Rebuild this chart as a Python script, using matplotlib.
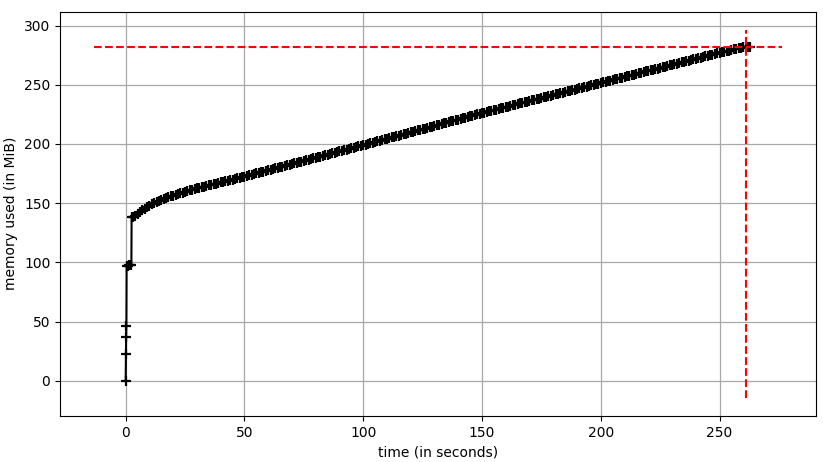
import matplotlib
matplotlib.use("Agg")
import matplotlib.pyplot as plt

# sample timestamps (s) and memory usage (MiB)
t_start = [0.0, 0.1, 0.2, 0.3, 0.4, 1.0, 1.5, 2.0, 2.4]
m_start = [0.0, 22.6, 37.3, 46.3, 97.0, 97.0, 97.5, 97.5, 97.5]

t_main = [2.5, 3, 4, 5, 6, 7, 8, 9, 10,
          11, 12, 13, 14, 15, 16, 17, 18, 19, 20,
          21, 22, 23, 24, 25, 26, 27, 28, 29, 30,
          31, 32, 33, 34, 35, 36, 37, 38, 39, 40,
          41, 42, 43, 44, 45, 46, 47, 48, 49, 50,
          51, 52, 53, 54, 55, 56, 57, 58, 59, 60,
          61, 62, 63, 64, 65, 66, 67, 68, 69, 70,
          71, 72, 73, 74, 75, 76, 77, 78, 79, 80,
          81, 82, 83, 84, 85, 86, 87, 88, 89, 90,
          91, 92, 93, 94, 95, 96, 97, 98, 99, 100,
          101, 102, 103, 104, 105, 106, 107, 108, 109, 110,
          111, 112, 113, 114, 115, 116, 117, 118, 119, 120,
          121, 122, 123, 124, 125, 126, 127, 128, 129, 130,
          131, 132, 133, 134, 135, 136, 137, 138, 139, 140,
          141, 142, 143, 144, 145, 146, 147, 148, 149, 150,
          151, 152, 153, 154, 155, 156, 157, 158, 159, 160,
          161, 162, 163, 164, 165, 166, 167, 168, 169, 170,
          171, 172, 173, 174, 175, 176, 177, 178, 179, 180,
          181, 182, 183, 184, 185, 186, 187, 188, 189, 190,
          191, 192, 193, 194, 195, 196, 197, 198, 199, 200,
          201, 202, 203, 204, 205, 206, 207, 208, 209, 210,
          211, 212, 213, 214, 215, 216, 217, 218, 219, 220,
          221, 222, 223, 224, 225, 226, 227, 228, 229, 230,
          231, 232, 233, 234, 235, 236, 237, 238, 239, 240,
          241, 242, 243, 244, 245, 246, 247, 248, 249, 250,
          251, 252, 253, 254, 255, 256, 257, 258, 259, 260,
          261, 262, 263]
m_main = [138.0, 138.5, 139.5, 141.0, 142.5, 144.0, 145.5, 147.0, 148.0,
          149.0, 150.0, 150.8, 151.5, 152.5, 153.5, 154.2, 155.0, 155.8, 156.5,
          157.0, 157.5, 158.2, 159.0, 159.5, 160.0, 160.8, 161.5, 162.0, 162.5,
          163.0, 163.5, 164.0, 164.5, 165.0, 165.5, 166.0, 166.5, 167.0, 167.5,
          168.0, 168.5, 169.0, 169.5, 170.0, 170.5, 171.0, 171.5, 172.0, 172.5,
          173.0, 173.5, 174.1, 174.6, 175.1, 175.6, 176.2, 176.7, 177.2, 177.8,
          178.3, 178.8, 179.4, 179.9, 180.4, 180.9, 181.5, 182.0, 182.5, 183.1,
          183.6, 184.1, 184.7, 185.2, 185.7, 186.2, 186.8, 187.3, 187.8, 188.4,
          188.9, 189.4, 190.0, 190.5, 191.0, 191.5, 192.1, 192.6, 193.1, 193.7,
          194.2, 194.7, 195.3, 195.8, 196.3, 196.8, 197.4, 197.9, 198.4, 199.0,
          199.5, 200.1, 200.6, 201.2, 201.7, 202.2, 202.8, 203.3, 203.9, 204.4,
          204.9, 205.5, 206.0, 206.6, 207.1, 207.6, 208.2, 208.7, 209.3, 209.8,
          210.3, 210.9, 211.4, 212.0, 212.5, 213.0, 213.6, 214.1, 214.7, 215.2,
          215.7, 216.3, 216.8, 217.4, 217.9, 218.4, 219.0, 219.5, 220.1, 220.6,
          221.1, 221.7, 222.2, 222.8, 223.3, 223.8, 224.4, 224.9, 225.5, 226.0,
          226.5, 227.0, 227.5, 228.0, 228.6, 229.1, 229.6, 230.1, 230.6, 231.1,
          231.6, 232.1, 232.6, 233.1, 233.7, 234.2, 234.7, 235.2, 235.7, 236.2,
          236.7, 237.2, 237.7, 238.2, 238.8, 239.3, 239.8, 240.3, 240.8, 241.3,
          241.8, 242.3, 242.8, 243.3, 243.9, 244.4, 244.9, 245.4, 245.9, 246.4,
          246.9, 247.4, 247.9, 248.4, 249.0, 249.5, 250.0, 250.5, 251.0, 251.5,
          252.0, 252.5, 253.0, 253.5, 254.1, 254.6, 255.1, 255.6, 256.1, 256.6,
          257.1, 257.6, 258.1, 258.6, 259.2, 259.7, 260.2, 260.7, 261.2, 261.7,
          262.2, 262.7, 263.2, 263.7, 264.3, 264.8, 265.3, 265.8, 266.3, 266.8,
          267.3, 267.8, 268.3, 268.8, 269.4, 269.9, 270.4, 270.9, 271.4, 271.9,
          272.4, 272.9, 273.4, 273.9, 274.5, 275.0, 275.5, 276.0, 276.5, 277.0,
          277.5, 278.0, 278.4, 278.9, 279.4, 279.8, 280.3, 280.8, 281.2, 281.7,
          282.2, 281.9, 281.6]

times = t_start + t_main
mem = m_start + m_main

fig = plt.figure(figsize=(8.23, 4.62), dpi=100, facecolor="white")
ax = fig.add_axes([0.073, 0.0996, 0.9185, 0.8755])

ax.plot(times, mem, color="black", marker="+", linewidth=1.5,
        markersize=7, markeredgewidth=1.6)

max_mem = max(mem)
max_t = times[mem.index(max_mem)]
xlim = ax.get_xlim()
ax.hlines(max_mem, xlim[0] + 0.001, xlim[1] - 0.001, colors="red",
          linestyles="--", linewidth=1.5)
ylim = ax.get_ylim()
ax.vlines(max_t, ylim[0] + 0.001, ylim[1] - 0.001, colors="red",
          linestyles="--", linewidth=1.5)

ax.grid(True, color="#a8a8a8", linewidth=0.9)
ax.set_axisbelow(True)
ax.set_xlabel("time (in seconds)")
ax.set_ylabel("memory used (in MiB)")

fig.savefig("out.png", dpi=100, facecolor="white")
